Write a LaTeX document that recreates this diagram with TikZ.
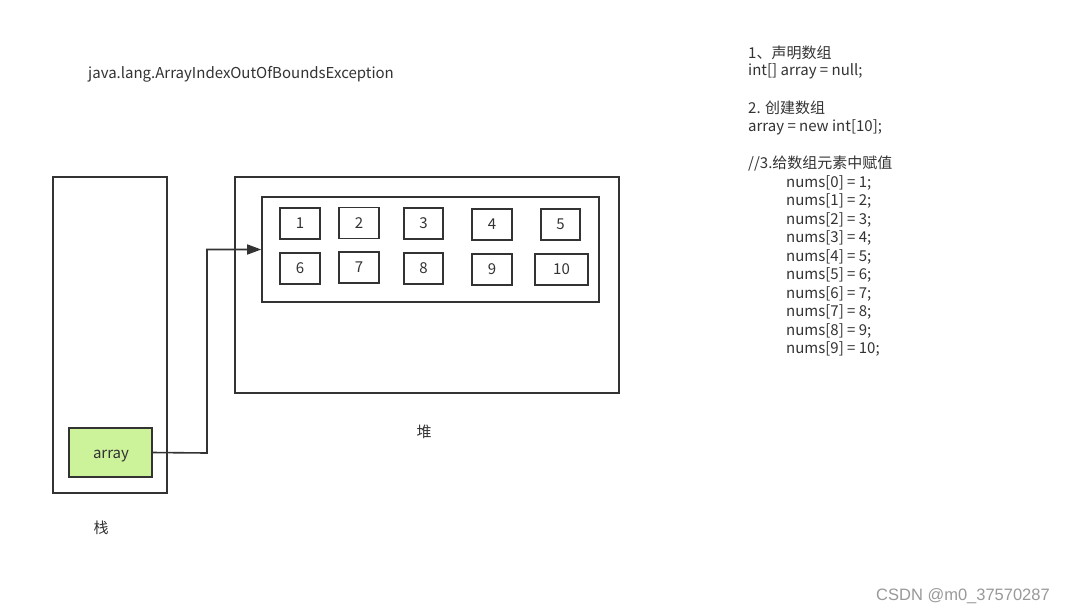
\documentclass[tikz,border=0pt]{standalone}
\usepackage{fontspec}
\setmainfont{Noto Sans CJK SC}
\newfontfamily\wmfont{Liberation Sans}
\usetikzlibrary{arrows.meta}
\definecolor{ln}{HTML}{333333}
\definecolor{grn}{HTML}{CCF29A}
\begin{document}
\begin{tikzpicture}[x=1pt,y=-1pt,
  box/.style={draw=ln,line width=1.6pt},
  cell/.style={draw=ln,line width=1.6pt,font=\fontsize{15}{17}\selectfont,text=ln},
  txt/.style={font=\fontsize{15}{17}\selectfont,text=ln,inner sep=0pt},
  code/.style={font=\fontsize{15}{17}\selectfont,text=ln,inner sep=0pt,anchor=west}]
\useasboundingbox[fill=white] (0,0) rectangle (1067,614);
% stack
\draw[box] (53,177) rectangle (167,493);
\node[draw=ln,line width=1.6pt,fill=grn,minimum width=83pt,minimum height=49pt,inner sep=0pt] (arr) at (110.5,452.5) {};
\node[txt] (arrlabel) at (111,456) {array};
\node[txt] (zhan) at (101,528) {栈};
% heap
\draw[box] (235,177) rectangle (619,393);
\node[draw=ln,line width=1.6pt,minimum width=337pt,minimum height=105pt,inner sep=0pt] (inner) at (430.5,249.5) {};
\node[txt] (dui) at (424,432) {堆};
% cells
\foreach \n/\x/\y/\w in {1/300/223.5/40,2/359/223/40,3/423.5/223.5/39,4/492/224.5/40,5/560.5/224.5/39,
  6/300/268.5/40,7/359/267.5/40,8/423.5/268.5/39,9/492/269.5/40,10/561.5/269.5/53}
  \node[cell,minimum width=\w pt,minimum height=31pt,inner sep=0pt] (c\n) at (\x,\y) {\n};
% arrow
\coordinate (bend) at (207,453);
\draw[draw=ln,line width=1.6pt,-{Triangle[length=14pt,width=10pt]}] (arr.east) -- (bend) |- (inner.west);
% title
\node[code] (title) at (88,74) {java.lang.ArrayIndexOutOfBoundsException};
% code
\node[code] (l1) at (748,53) {1、声明数组};
\node[code] (l2) at (748,71) {int[] array = null;};
\node[code] (l3) at (748,108) {2. 创建数组};
\node[code] (l4) at (748,127) {array = new int[10];};
\node[code] (l5) at (748,164) {//3.给数组元素中赋值};
\foreach \i in {0,...,9}{
  \pgfmathtruncatemacro\v{\i+1}
  \node[code] (n\i) at (786,{183+18.44*\i}) {nums[\i] = \v;};
}
% watermark
\node[anchor=west,inner sep=0pt,text=black!40,font=\wmfont\fontsize{16.5}{18}\selectfont] (wm) at (876,596) {CSDN @m0\_37570287};
\end{tikzpicture}
\end{document}
